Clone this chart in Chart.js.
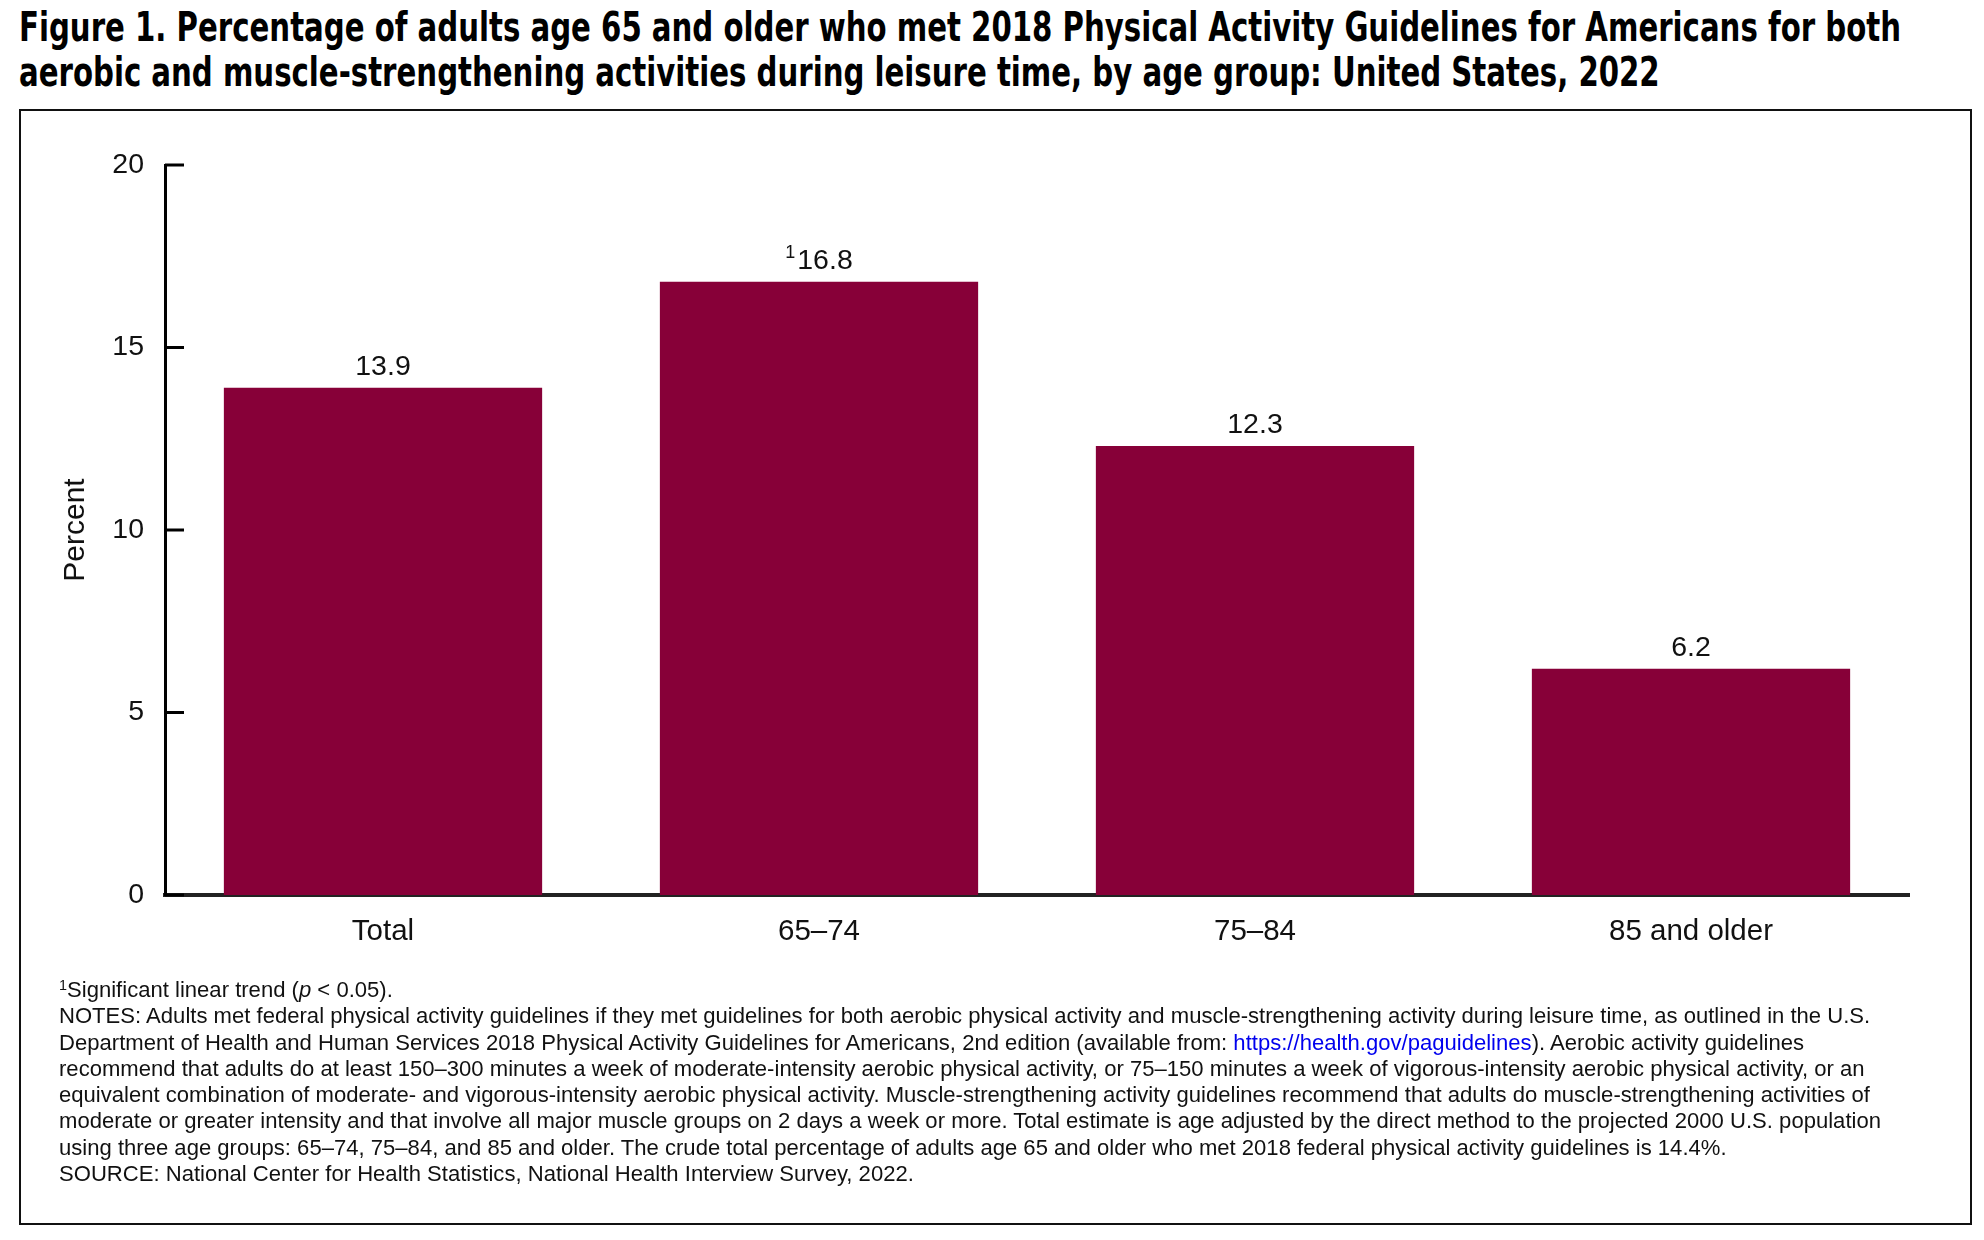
<!DOCTYPE html>
<html>
<head>
<meta charset="utf-8">
<script src="https://cdn.jsdelivr.net/npm/chart.js@4.4.1/dist/chart.umd.min.js"></script>
<style>
  html, body { margin: 0; padding: 0; background: #fff; }
  body { width: 1984px; height: 1240px; position: relative; overflow: hidden; font-family: "Liberation Sans", Arial, sans-serif; }
  #title { position: absolute; left: 19px; top: 5px; font-family: "DejaVu Sans Condensed", "DejaVu Sans", sans-serif; font-stretch: condensed; font-weight: bold; font-size: 41px; line-height: 45px; color: #000; }
  #title div, #notes div { white-space: nowrap; transform-origin: 0 0; }
  #frame { position: absolute; left: 19px; top: 109px; width: 1949px; height: 1112px; border: 2px solid #111; }
  #chart { position: absolute; left: 0; top: 0; }
  #notes { position: absolute; left: 59px; top: 977px; font-size: 21.5px; line-height: 26.3px; color: #111; }
  #notes sup { font-size: 14px; vertical-align: 7px; line-height: 0; }
  #notes a { color: #0000ee; text-decoration: none; }
</style>
</head>
<body>
<div id="title">
  <div>Figure 1. Percentage of adults age 65 and older who met 2018 Physical Activity Guidelines for Americans for both</div>
  <div>aerobic and muscle-strengthening activities during leisure time, by age group: United States, 2022</div>
</div>
<div id="frame"></div>
<canvas id="chart" width="1984" height="1000"></canvas>
<div id="notes">
  <div><sup>1</sup>Significant linear trend (<i>p</i> &lt; 0.05).</div>
  <div id="wideLine">NOTES: Adults met federal physical activity guidelines if they met guidelines for both aerobic physical activity and muscle-strengthening activity during leisure time, as outlined in the U.S.</div>
  <div>Department of Health and Human Services 2018 Physical Activity Guidelines for Americans, 2nd edition (available from: <a>https://health.gov/paguidelines</a>). Aerobic activity guidelines</div>
  <div>recommend that adults do at least 150–300 minutes a week of moderate-intensity aerobic physical activity, or 75–150 minutes a week of vigorous-intensity aerobic physical activity, or an</div>
  <div>equivalent combination of moderate- and vigorous-intensity aerobic physical activity. Muscle-strengthening activity guidelines recommend that adults do muscle-strengthening activities of</div>
  <div>moderate or greater intensity and that involve all major muscle groups on 2 days a week or more. Total estimate is age adjusted by the direct method to the projected 2000 U.S. population</div>
  <div>using three age groups: 65–74, 75–84, and 85 and older. The crude total percentage of adults age 65 and older who met 2018 federal physical activity guidelines is 14.4%.</div>
  <div>SOURCE: National Center for Health Statistics, National Health Interview Survey, 2022.</div>
</div>
<script>
// data
const ageGroups = ['Total', '65–74', '75–84', '85 and older'];
const percentMet = [13.9, 16.8, 12.3, 6.2];
const trendNote = ['', '1', '', ''];
const yTicks = [0, 5, 10, 15, 20];

// squeeze text lines to the widths in the figure
function fitLines(container, refLine, target) {
  const lines = container.querySelectorAll(':scope > div');
  const w = refLine.getBoundingClientRect().width;
  const k = target / w;
  lines.forEach(l => { l.style.transform = 'scaleX(' + k + ')'; });
}
const titleBox = document.getElementById('title');
fitLines(titleBox, titleBox.querySelector('div'), 1882);
fitLines(document.getElementById('notes'), document.getElementById('wideLine'), 1822);

Chart.defaults.font.family = '"Liberation Sans", Arial, sans-serif';
Chart.defaults.color = '#111';

const AXIS_X = 165, AXIS_BOTTOM = 895;

// value labels above the bars, with the superscript trend note
const barLabels = {
  id: 'barLabels',
  afterDatasetsDraw(chart) {
    const ctx = chart.ctx;
    const meta = chart.getDatasetMeta(0);
    ctx.save();
    ctx.fillStyle = '#111';
    ctx.textBaseline = 'alphabetic';
    meta.data.forEach((bar, i) => {
      const txt = percentMet[i].toFixed(1);
      const note = trendNote[i];
      ctx.font = '28.5px "Liberation Sans"';
      const tw = ctx.measureText(txt).width;
      ctx.font = '18px "Liberation Sans"';
      const nw = note ? ctx.measureText(note).width + 2 : 0;
      const x0 = bar.x - (tw + nw) / 2;
      const y = bar.y - 13;
      ctx.textAlign = 'left';
      if (note) ctx.fillText(note, x0, y - 11);
      ctx.font = '28.5px "Liberation Sans"';
      ctx.fillText(txt, x0 + nw, y);
    });
    ctx.restore();
  }
};

// tick marks pointing into the plot
const innerTicks = {
  id: 'innerTicks',
  afterDraw(chart) {
    const ctx = chart.ctx;
    const ys = chart.scales.y;
    ctx.save();
    ctx.strokeStyle = '#000';
    ctx.lineWidth = 3;
    ys.ticks.forEach(t => {
      const py = ys.getPixelForValue(t.value);
      ctx.beginPath();
      ctx.moveTo(chart.chartArea.left, py);
      ctx.lineTo(chart.chartArea.left + 19, py);
      ctx.stroke();
    });
    ctx.restore();
  }
};

new Chart(document.getElementById('chart'), {
  type: 'bar',
  data: {
    labels: ageGroups,
    datasets: [{
      data: percentMet,
      backgroundColor: '#870038',
      borderWidth: 0,
      categoryPercentage: 1,
      barPercentage: 0.73
    }]
  },
  options: {
    responsive: false,
    devicePixelRatio: 1,
    animation: false,
    layout: { padding: { left: 0, right: 75, top: 165, bottom: 0 } },
    plugins: { legend: { display: false }, tooltip: { enabled: false } },
    scales: {
      x: {
        grid: { display: false, drawTicks: false },
        border: { color: '#222', width: 4 },
        ticks: { font: { size: 29.5 }, padding: 19, color: '#111' },
        afterFit: s => { s.height = 1000 - AXIS_BOTTOM; }
      },
      y: {
        min: yTicks[0],
        max: yTicks[yTicks.length - 1],
        afterBuildTicks: s => { s.ticks = yTicks.map(v => ({ value: v })); },
        grid: { display: false, drawTicks: false },
        border: { color: '#000', width: 3 },
        ticks: { font: { size: 28.5 }, padding: 21, color: '#111' },
        title: { display: true, text: 'Percent', font: { size: 30 }, color: '#111', padding: { top: 58, bottom: 0 } },
        afterFit: s => { s.width = AXIS_X; }
      }
    }
  },
  plugins: [barLabels, innerTicks]
});
</script>
</body>
</html>
